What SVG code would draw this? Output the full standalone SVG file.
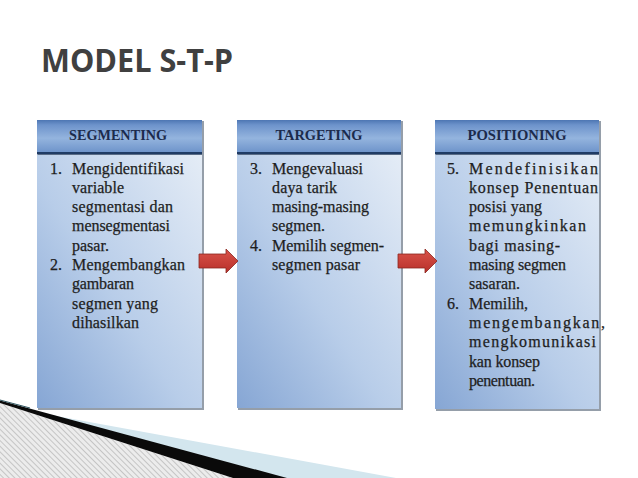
<svg xmlns="http://www.w3.org/2000/svg" width="638" height="478" viewBox="0 0 638 478">
<defs>
<linearGradient id="hdr" x1="0" y1="0" x2="0" y2="1">
<stop offset="0" stop-color="#4d76b3"/>
<stop offset="0.15" stop-color="#6d93cb"/>
<stop offset="0.55" stop-color="#94b4de"/>
<stop offset="1" stop-color="#6c92c9"/>
</linearGradient>
<linearGradient id="body" x1="0" y1="1" x2="1" y2="0">
<stop offset="0" stop-color="#86a6d4"/>
<stop offset="0.45" stop-color="#b8cde9"/>
<stop offset="1" stop-color="#e4ecf6"/>
</linearGradient>
<linearGradient id="arr" x1="0" y1="0" x2="0" y2="1">
<stop offset="0" stop-color="#d9534a"/>
<stop offset="1" stop-color="#b8302a"/>
</linearGradient>
<pattern id="hatch" width="4" height="4" patternUnits="userSpaceOnUse" patternTransform="rotate(-45)">
<rect width="4" height="4" fill="#ececec"/>
<line x1="0" y1="0" x2="0" y2="4" stroke="#b0b0b0" stroke-width="1.3"/>
</pattern>
</defs>
<style>
.shadow{fill:#959ea9}
.hdr{fill:url(#hdr)}
.hline{fill:#1f3b64}
.body{fill:url(#body)}
.ht{font-family:"Liberation Serif",serif;font-weight:bold;font-size:14px;fill:#1c2b4c;text-anchor:middle}
.t{font-family:"Liberation Serif",serif;font-size:16px;fill:#1e1e1e;stroke:#1e1e1e;stroke-width:0.25}
.title{font-family:"Open Sans","Liberation Sans",sans-serif;font-weight:bold;font-size:32px;fill:#404040}
.arrow{fill:url(#arr);stroke:#8a2620;stroke-width:0.8}
</style>
<rect width="638" height="478" fill="#ffffff"/>
<text class="title" x="41" y="72" textLength="192" lengthAdjust="spacingAndGlyphs">MODEL S-T-P</text>

<g id="segmenting">
<rect class="shadow" x="38" y="121" width="166" height="289"/>
<rect class="hdr" x="37" y="120" width="165" height="33"/>
<rect class="hline" x="37" y="152" width="165" height="2.5"/>
<rect class="body" x="37" y="155" width="165" height="253"/>
<text class="ht" x="118" y="140" textLength="98" lengthAdjust="spacingAndGlyphs">SEGMENTING</text>
<text class="t" x="50" y="173.5">1.</text>
<text class="t" x="72" y="173.5" textLength="112" lengthAdjust="spacing">Mengidentifikasi</text>
<text class="t" x="72" y="192.8" textLength="52" lengthAdjust="spacing">variable</text>
<text class="t" x="72" y="212.1" textLength="101" lengthAdjust="spacing">segmentasi dan</text>
<text class="t" x="72" y="231.4" textLength="98" lengthAdjust="spacing">mensegmentasi</text>
<text class="t" x="72" y="250.7">pasar.</text>
<text class="t" x="50" y="270">2.</text>
<text class="t" x="72" y="270" textLength="113" lengthAdjust="spacing">Mengembangkan</text>
<text class="t" x="72" y="289.3" textLength="62" lengthAdjust="spacing">gambaran</text>
<text class="t" x="72" y="308.6" textLength="86" lengthAdjust="spacing">segmen yang</text>
<text class="t" x="72" y="327.9" textLength="67" lengthAdjust="spacing">dihasilkan</text>
</g>

<g id="targeting">
<rect class="shadow" x="238" y="121" width="165" height="289"/>
<rect class="hdr" x="237" y="120" width="164" height="33"/>
<rect class="hline" x="237" y="152" width="164" height="2.5"/>
<rect class="body" x="237" y="155" width="164" height="253"/>
<text class="ht" x="319" y="140" textLength="87" lengthAdjust="spacingAndGlyphs">TARGETING</text>
<text class="t" x="250" y="173.5">3.</text>
<text class="t" x="272" y="173.5" textLength="91" lengthAdjust="spacing">Mengevaluasi</text>
<text class="t" x="272" y="192.8" textLength="65" lengthAdjust="spacing">daya tarik</text>
<text class="t" x="272" y="212.1" textLength="97" lengthAdjust="spacing">masing-masing</text>
<text class="t" x="272" y="231.4">segmen.</text>
<text class="t" x="250" y="250.7">4.</text>
<text class="t" x="272" y="250.7" textLength="112" lengthAdjust="spacing">Memilih segmen-</text>
<text class="t" x="272" y="270" textLength="88" lengthAdjust="spacing">segmen pasar</text>
</g>

<g id="positioning">
<rect class="shadow" x="436" y="121" width="165" height="290"/>
<rect class="hdr" x="435" y="120" width="164" height="33"/>
<rect class="hline" x="435" y="152" width="164" height="2.5"/>
<rect class="body" x="435" y="155" width="164" height="254"/>
<text class="ht" x="517" y="140" textLength="99" lengthAdjust="spacingAndGlyphs">POSITIONING</text>
<text class="t" x="447" y="173.5">5.</text>
<text class="t" x="469" y="173.5" textLength="129" lengthAdjust="spacing">Mendefinisikan</text>
<text class="t" x="469" y="192.8" textLength="129" lengthAdjust="spacing">konsep Penentuan</text>
<text class="t" x="469" y="212.1" textLength="73" lengthAdjust="spacing">posisi yang</text>
<text class="t" x="469" y="231.4" textLength="117" lengthAdjust="spacing">memungkinkan</text>
<text class="t" x="469" y="250.7" textLength="91" lengthAdjust="spacing">bagi masing-</text>
<text class="t" x="469" y="270" textLength="97" lengthAdjust="spacing">masing segmen</text>
<text class="t" x="469" y="289.3">sasaran.</text>
<text class="t" x="447" y="308.6">6.</text>
<text class="t" x="469" y="308.6">Memilih,</text>
<text class="t" x="469" y="327.9" textLength="136" lengthAdjust="spacing">mengembangkan,</text>
<text class="t" x="469" y="347.2" textLength="127" lengthAdjust="spacing">mengkomunikasi</text>
<text class="t" x="469" y="366.5" textLength="71" lengthAdjust="spacing">kan konsep</text>
<text class="t" x="469" y="385.8" textLength="66" lengthAdjust="spacing">penentuan.</text>
</g>

<g id="connectors">
<path class="arrow" d="M199,254 L226,254 L226,249 L238,261 L226,273 L226,268 L199,268 Z"/>
<path class="arrow" d="M398,254 L425,254 L425,249 L437,261 L425,273 L425,268 L398,268 Z"/>
</g>

<g id="decoration">
<polygon points="40,413 396,478 285,478" fill="#d3e6ee"/>
<polygon points="0,403 233,478 0,478" fill="url(#hatch)"/>
<polygon points="0,400.5 287,478 233,478 0,403" fill="#0a0a0a"/>
<line x1="0" y1="400" x2="30" y2="408" stroke="#2e5560" stroke-width="1"/>
</g>
</svg>
